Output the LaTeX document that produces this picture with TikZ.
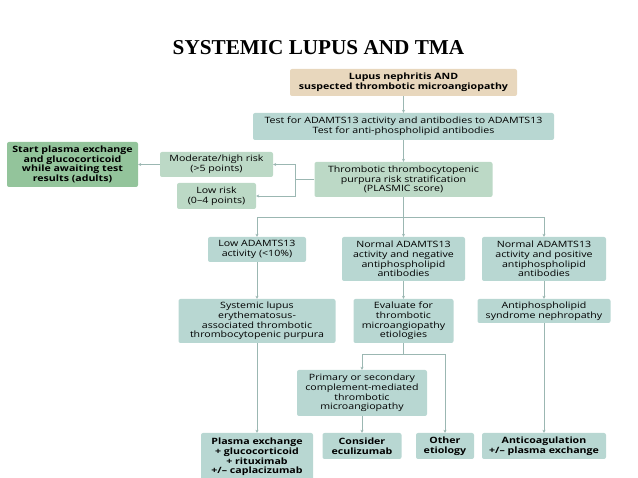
\documentclass[tikz,border=0pt]{standalone}
\usepackage{fontspec}
\setmainfont{Liberation Serif}
\setsansfont[FakeStretch=1.22]{Open Sans}
\usetikzlibrary{arrows.meta}
\definecolor{tanfill}{HTML}{E8D7BD}
\definecolor{tealfill}{HTML}{B8D7D2}
\definecolor{greenfill}{HTML}{BCD9C6}
\definecolor{darkgreen}{HTML}{93C49B}
\definecolor{linkgray}{HTML}{9BB7B2}
\newcommand{\boxfont}{\sffamily\fontsize{8.7}{9.7}\selectfont}
\newcommand{\boldboxfont}{\sffamily\bfseries\fontsize{8.7}{9.7}\selectfont}
\tikzset{
  box/.style={rounded corners=2pt, align=center, inner sep=1pt, font=\boxfont},
  tealbox/.style={box, fill=tealfill},
  greenbox/.style={box, fill=greenfill},
  link/.style={draw=linkgray, line width=0.8pt, -{Stealth[length=3pt,width=3pt]}},
  bare/.style={draw=linkgray, line width=0.8pt}
}
\begin{document}
\begin{tikzpicture}[x=1pt,y=-1pt]
      \useasboundingbox (0,0) rectangle (638,478);
      \node[font=\bfseries\fontsize{21.2}{24}\selectfont] (title) at (318.5,48) {SYSTEMIC LUPUS AND TMA};
      % top of the chart
      \node[box, fill=tanfill, minimum width=227pt, minimum height=27pt, font=\boldboxfont] (lupus) at (403.5,82.5) {Lupus nephritis AND\\suspected thrombotic microangiopathy};
      \node[tealbox, minimum width=301pt, minimum height=27pt] (test) at (403.5,126.5) {Test for ADAMTS13 activity and antibodies to ADAMTS13\\Test for anti-phospholipid antibodies};
      \node[greenbox, minimum width=178pt, minimum height=35pt] (plasmic) at (403.5,179.5) {Thrombotic thrombocytopenic\\purpura risk stratification\\(PLASMIC score)};
      \node[greenbox, minimum width=113pt, minimum height=25pt] (modrisk) at (216.5,164.5) {Moderate/high risk\\(>5 points)};
      \node[greenbox, minimum width=79pt, minimum height=26pt] (lowrisk) at (216.5,196) {Low risk\\(0--4 points)};
      \node[box, fill=darkgreen, minimum width=131pt, minimum height=45pt, font=\boldboxfont] (start) at (72.5,164.5) {Start plasma exchange\\and glucocorticoid\\while awaiting test\\results (adults)};
      % second level
      \node[tealbox, minimum width=98pt, minimum height=25pt] (lowad) at (257,249.5) {Low ADAMTS13\\activity (<10\%)};
      \node[tealbox, minimum width=123pt, minimum height=44pt] (normneg) at (403.5,259) {Normal ADAMTS13\\activity and negative\\antiphospholipid\\antibodies};
      \node[tealbox, minimum width=124pt, minimum height=44pt] (normpos) at (544,259) {Normal ADAMTS13\\activity and positive\\antiphospholipid\\antibodies};
      \node[tealbox, minimum width=157pt, minimum height=44pt] (sle) at (257,321) {Systemic lupus\\erythematosus-\\associated thrombotic\\thrombocytopenic purpura};
      \node[tealbox, minimum width=100pt, minimum height=44pt] (eval) at (403.5,321) {Evaluate for\\thrombotic\\microangiopathy\\etiologies};
      \node[tealbox, minimum width=133pt, minimum height=24pt] (aps) at (544,311) {Antiphospholipid\\syndrome nephropathy};
      \node[tealbox, minimum width=130pt, minimum height=46pt] (primary) at (362,393) {Primary or secondary\\complement-mediated\\thrombotic\\microangiopathy};
      % treatments
      \node[tealbox, minimum width=112pt, minimum height=48pt, font=\boldboxfont] (plex) at (257,457) {Plasma exchange\\+ glucocorticoid\\+ rituximab\\+/-- caplacizumab};
      \node[tealbox, minimum width=79pt, minimum height=26pt, font=\boldboxfont] (ecu) at (362,446) {Consider\\eculizumab};
      \node[tealbox, minimum width=58pt, minimum height=26pt, font=\boldboxfont] (other) at (445,446) {Other\\etiology};
      \node[tealbox, minimum width=124pt, minimum height=26pt, font=\boldboxfont] (anticoag) at (544,446) {Anticoagulation\\+/-- plasma exchange};
      % connectors
      \coordinate (split) at (295,179.5);
      \coordinate (bus) at (403.5,217);
      \coordinate (evalbus) at (403.5,354);
      \draw[link] (lupus) -- (test);
      \draw[link] (test) -- (plasmic);
      \draw[bare] (plasmic.west) -- (split);
      \draw[link] (split) |- (modrisk.east);
      \draw[link] (split) |- (lowrisk.east);
      \draw[link] (modrisk) -- (start);
      \draw[bare] (plasmic) -- (bus);
      \draw[link] (bus) -| (lowad.north);
      \draw[link] (bus) -- (normneg);
      \draw[link] (bus) -| (normpos.north);
      \draw[link] (lowad) -- (sle);
      \draw[link] (normneg) -- (eval);
      \draw[link] (normpos) -- (aps);
      \draw[bare] (eval) -- (evalbus);
      \draw[link] (evalbus) -| (primary.north);
      \draw[link] (evalbus) -| (other.north);
      \draw[link] (sle) -- (plex);
      \draw[link] (primary) -- (ecu);
      \draw[link] (aps) -- (anticoag);
    \end{tikzpicture}
\end{document}
